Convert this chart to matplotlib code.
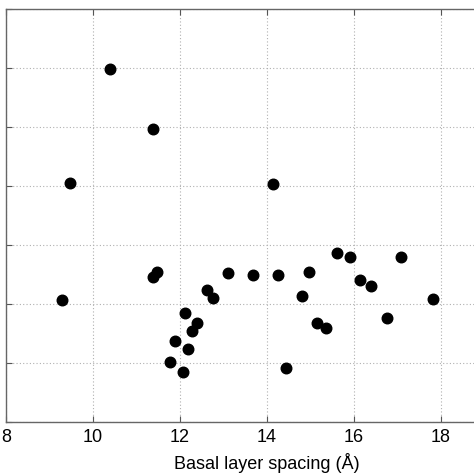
import matplotlib
matplotlib.use("Agg")
import matplotlib.pyplot as plt

plt.rcParams['font.family'] = ['Liberation Sans', 'DejaVu Sans']

spacing = [9.29, 9.47, 10.38, 11.38, 11.37, 11.46, 12.11, 12.39, 12.27, 11.89,
           12.19, 11.78, 12.06, 12.63, 12.75, 13.11, 13.68, 14.25, 14.96, 14.81,
           15.62, 15.91, 17.09, 16.14, 16.38, 17.82, 15.15, 15.36, 16.77, 14.44,
           14.14]
values = [2.07, 4.05, 5.99, 4.97, 2.45, 2.54, 1.84, 1.67, 1.55, 1.38,
          1.23, 1.01, 0.84, 2.23, 2.10, 2.53, 2.49, 2.50, 2.54, 2.13,
          2.86, 2.80, 2.80, 2.41, 2.31, 2.08, 1.67, 1.59, 1.76, 0.92,
          4.03]
xticks = [8, 10, 12, 14, 16, 18]
yticks = [0, 1, 2, 3, 4, 5, 6, 7]

fig = plt.figure(figsize=(4.74, 4.74), dpi=100)
W = 474.0
ax = fig.add_axes([6 / W, 52 / W, 522 / W, 413 / W])
ax.plot(spacing, values, 'o', color='black', markersize=7.6, linestyle='none')
ax.set_xlim(8, 20)
ax.set_ylim(0, 7)
ax.set_xticks(xticks)
ax.set_xticklabels([str(t) for t in xticks], fontsize=13)
ax.set_yticks(yticks)
ax.set_yticklabels([''] * len(yticks))
ax.grid(True, linestyle=(0, (1, 2)), color='#b0b0b0', linewidth=0.8)
ax.tick_params(direction='in', top=True, right=True, length=4, color='#555555', pad=5)
for s in ax.spines.values():
    s.set_color('#666666')
    s.set_linewidth(1.0)
ax.set_xlabel('Basal layer spacing (Å)', fontsize=13, labelpad=5)
fig.savefig('out.png', dpi=100)
